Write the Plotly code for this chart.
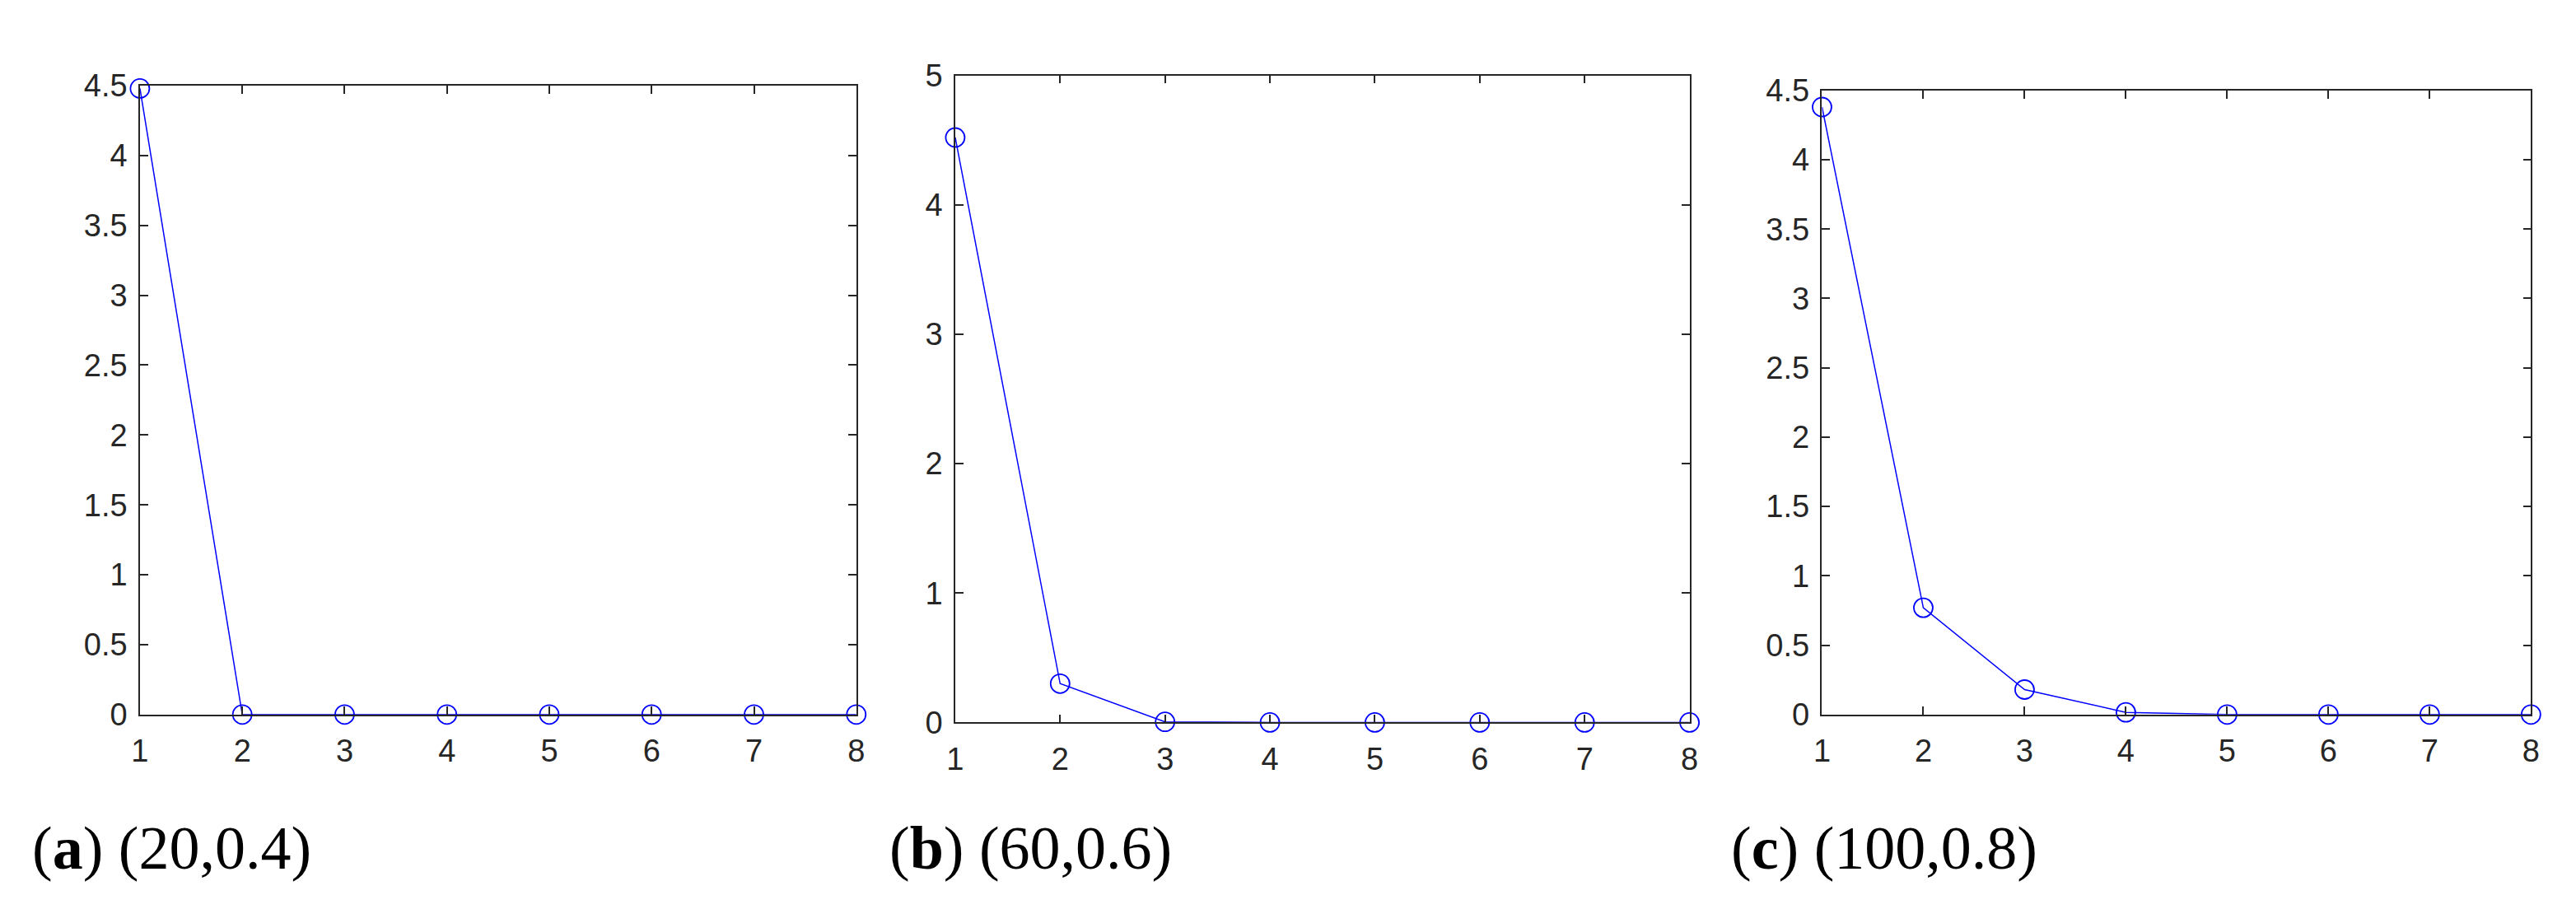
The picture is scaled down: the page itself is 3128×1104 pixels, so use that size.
import plotly.graph_objects as go

x_vals = [1, 2, 3, 4, 5, 6, 7, 8]
series_a = [4.48, 0.0, 0.0, 0.0, 0.0, 0.0, 0.0, 0.0]
series_b = [4.52, 0.30, 0.005, 0.0, 0.0, 0.0, 0.0, 0.0]
series_c = [4.38, 0.77, 0.18, 0.016, 0.0, 0.0, 0.0, 0.0]
y_ranges = [[0, 4.5], [0, 5], [0, 4.5]]
y_dticks = [0.5, 1, 0.5]
caption_letters = ["a", "b", "c"]
caption_params = ["(20,0.4)", "(60,0.6)", "(100,0.8)"]

W, H = 3128, 1104
# pixel boxes of the three axes (left, right, top, bottom)
boxes = [(152, 1028, 78, 872), (1149, 2047, 65, 882), (2209, 3076, 84, 872)]
caption_x = [18, 1066, 2096]

fig = go.Figure()
axis_col = "#262626"
for i, ys in enumerate([series_a, series_b, series_c]):
    n = "" if i == 0 else str(i + 1)
    fig.add_trace(go.Scatter(
        x=x_vals, y=ys, mode="lines+markers",
        line=dict(color="#0000FF", width=1.5),
        marker=dict(symbol="circle-open", size=23, color="#0000FF", line=dict(width=1.8)),
        cliponaxis=False, showlegend=False,
        xaxis="x" + n, yaxis="y" + n,
    ))
    l, r, t, b = boxes[i]
    common = dict(showline=True, linecolor=axis_col, linewidth=1.5, mirror="ticks",
                  ticks="inside", ticklen=10, tickwidth=1.5, tickcolor=axis_col,
                  showgrid=False, zeroline=False,
                  tickfont=dict(family="Arial, Liberation Sans", size=38, color=axis_col))
    fig.update_layout(**{
        "xaxis" + n: dict(domain=[l / W, r / W], range=[1, 8], dtick=1, tick0=1,
                          anchor="y" + n, ticklabelstandoff=10, **common),
        "yaxis" + n: dict(domain=[1 - b / H, 1 - t / H], range=y_ranges[i], dtick=y_dticks[i],
                          tick0=0, anchor="x" + n, ticklabelstandoff=6, **common),
    })
    fig.add_annotation(
        xref="paper", yref="paper", x=caption_x[i] / W, y=1 - 1041 / H,
        xanchor="left", yanchor="middle", showarrow=False,
        text="(<b>" + caption_letters[i] + "</b>) " + caption_params[i],
        font=dict(family="Liberation Serif, DejaVu Serif, serif", size=74, color="#000000"),
    )

fig.update_layout(width=W, height=H, margin=dict(l=0, r=0, t=0, b=0),
                  paper_bgcolor="white", plot_bgcolor="white")
fig.write_html("out.html")
